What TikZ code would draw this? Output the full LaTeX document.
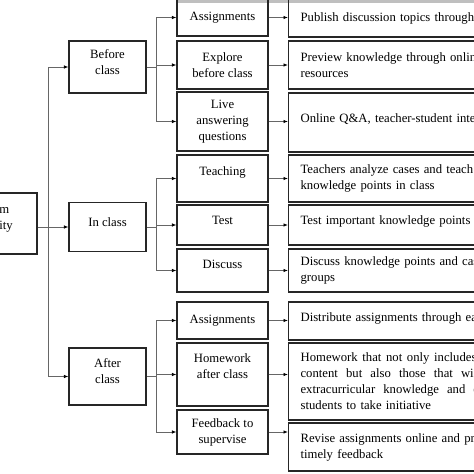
\documentclass[tikz,border=0pt]{standalone}
\usepackage{fontspec}
\setmainfont{Liberation Serif}
\usetikzlibrary{arrows.meta}
\tikzset{%
  tipS/.tip={Latex[length=4.5pt,width=3.5pt,color=black]},
  box/.style={draw=black!85, line width=1.2pt, align=center, inner sep=2pt},
  stage/.style={box, minimum width=77pt},
  item/.style={box, minimum width=91pt},
  desc/.style={box, anchor=west, text width=260pt, inner xsep=12pt, align=left},
  link/.style={draw=black!60, line width=0.8pt},
  conn/.style={link, -tipS}
}
\newcommand{\jline}[1]{\makebox[225pt][l]{#1}}

\begin{document}
\begin{tikzpicture}[x=1pt, y=-1pt, font=\fontsize{12.7}{16}\selectfont]
	\useasboundingbox (0,0) rectangle (474,474);
	\fill[black!25] (177,0) rectangle (474,2.5);
	% root and stages
	\node[box, minimum width=110pt, minimum height=61pt] (root) at (-18,223.5) {Classroom\\interactivity\\[-3pt]~};
	\node[stage, minimum height=52pt] (bc) at (107.5,67) {Before\\class\\[-6pt]~};
	\node[stage, minimum height=49pt] (ic) at (107.5,227) {In class\\[-6pt]~};
	\node[stage, minimum height=57pt] (ac) at (107.5,376.5) {After\\class\\[-5pt]~};
	% activities
	\node[item, minimum height=37pt] (i1) at (222.5,17.5) {Assignments};
	\node[item, minimum height=48pt] (i2) at (222.5,65) {Explore\\before class};
	\node[item, minimum height=59pt] (i3) at (222.5,121.5) {Live\\answering\\questions};
	\node[item, minimum height=47pt] (i4) at (222.5,178.5) {Teaching\\[-1pt]~};
	\node[item, minimum height=40pt] (i5) at (222.5,225) {Test\\[-6pt]~};
	\node[item, minimum height=43pt] (i6) at (222.5,270.5) {Discuss\\[-3pt]~};
	\node[item, minimum height=37pt] (i7) at (222.5,320.5) {Assignments};
	\node[item, minimum height=63pt] (i8) at (222.5,374.5) {Homework\\after class\\[1pt]~};
	\node[item, minimum height=44pt] (i9) at (222.5,432) {Feedback to\\supervise};
	% descriptions
	\node[desc, minimum height=38pt] (p1) at (288,18) {Publish discussion topics through platform};
	\node[desc, minimum height=48pt] (p2) at (288,65) {Preview knowledge through online\\resources};
	\node[desc, minimum height=59pt] (p3) at (288,122.5) {Online Q\&A, teacher-student interaction\\[-7pt]~};
	\node[desc, minimum height=47pt] (p4) at (288,178.5) {Teachers analyze cases and teach\\knowledge points in class};
	\node[desc, minimum height=40pt] (p5) at (288,225) {Test important knowledge points in class\\[-6pt]~};
	\node[desc, minimum height=43pt] (p6) at (288,270.5) {Discuss knowledge points and cases in\\groups};
	\node[desc, minimum height=38pt] (p7) at (288,321) {Distribute assignments through each platform\\[-8pt]~};
	\node[desc, minimum height=77pt] (p8) at (288,381.5) {%
		\jline{Homework\hfill that\hfill not\hfill only\hfill includes\hfill textbook}\\
		\jline{content\hfill but\hfill also\hfill those\hfill that\hfill will\hfill expand}\\
		\jline{extracurricular\hfill knowledge\hfill and\hfill encourage}\\
		students to take initiative};
	\node[desc, minimum height=48pt] (p9) at (288,447) {Revise assignments online and provide\\timely feedback};
	% connectors
	\coordinate (trunk) at (48,0);
	\coordinate (fork) at (156,0);
	\draw[conn] (ic.west -| root.east) -- (ic.west);
	\draw[link] (trunk |- bc.west) -- (trunk |- ac.west);
	\foreach \s in {bc,ac} \draw[conn] (trunk |- \s.west) -- (\s.west);
	\draw[link] (bc.east) -- (fork |- bc.east);
	\draw[link] (ic.east) -- (fork |- ic.east);
	\draw[link] (ac.east) -- (fork |- ac.east);
	\draw[link] (fork |- i1.west) -- (fork |- i3.west);
	\draw[link] (fork |- i4.west) -- (fork |- i6.west);
	\draw[link] (fork |- i7.west) -- (fork |- i9.west);
	\foreach \k in {1,...,9} {
		\draw[conn] (fork |- i\k.west) -- (i\k.west);
		\draw[conn] (i\k.east) -- (i\k.east -| p\k.west);
	}
\end{tikzpicture}
\end{document}
